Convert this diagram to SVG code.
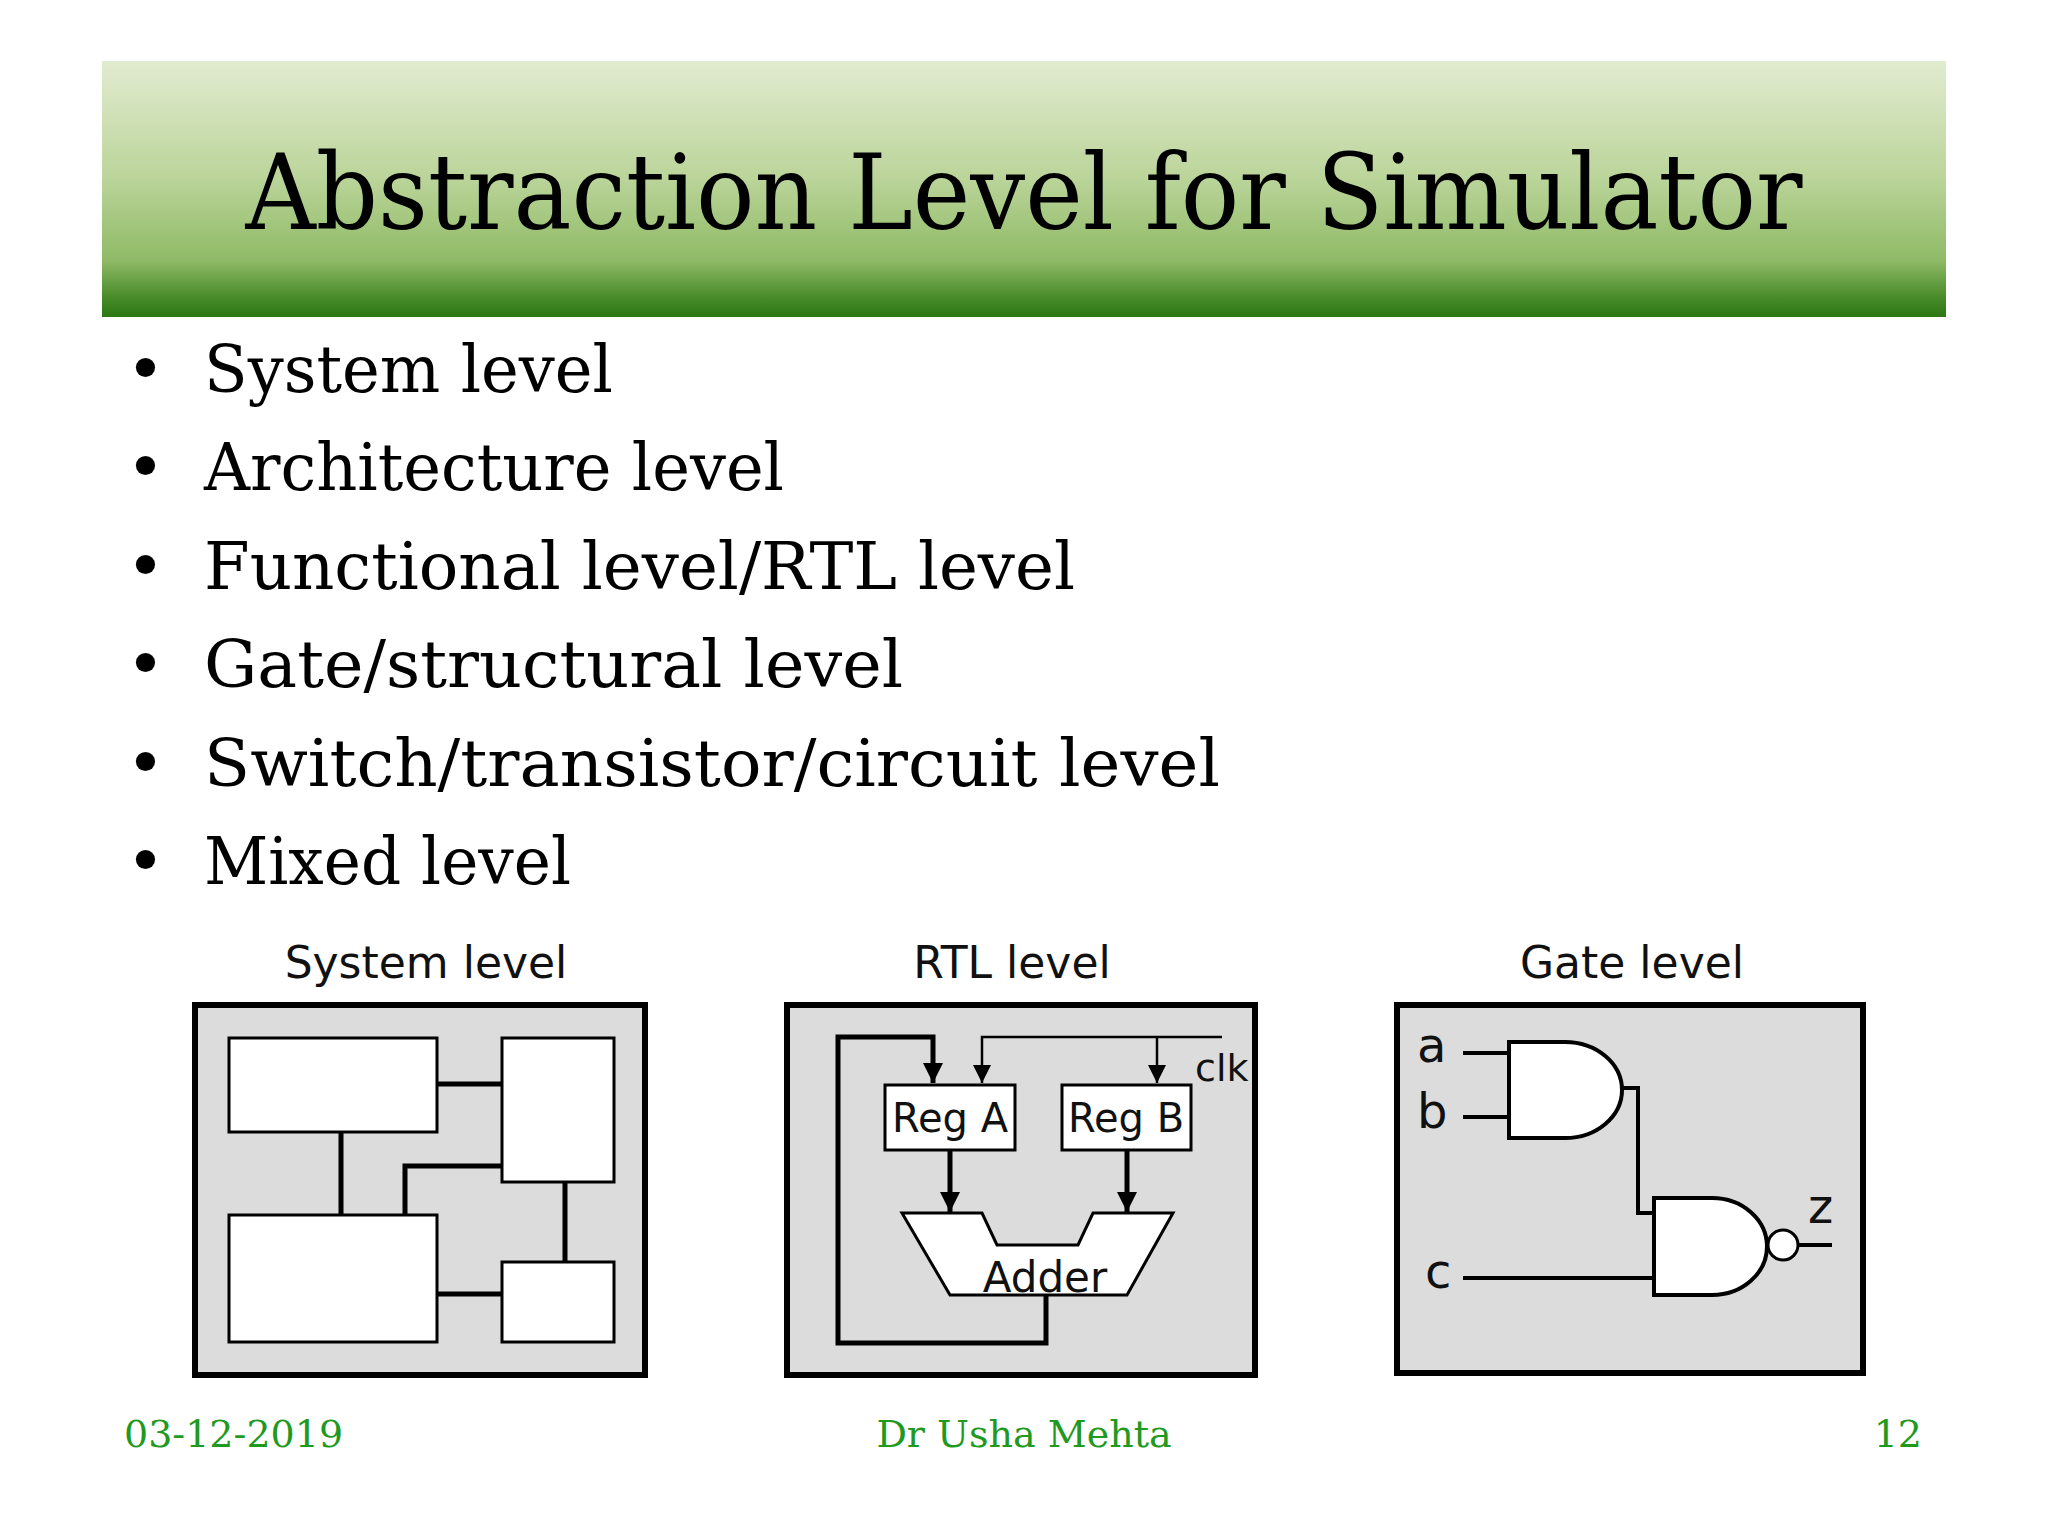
<svg xmlns="http://www.w3.org/2000/svg" width="2048" height="1536" viewBox="0 0 2048 1536">
<defs>
<linearGradient id="tg" x1="0" y1="0" x2="0" y2="1">
<stop offset="0" stop-color="#e1ebd0"/><stop offset="0.45" stop-color="#bcd59b"/><stop offset="0.78" stop-color="#8fba66"/><stop offset="0.92" stop-color="#4a8c2c"/><stop offset="1" stop-color="#2b7714"/>
</linearGradient>
<marker id="ah" viewBox="0 0 10 10" refX="10" refY="5" markerWidth="10" markerHeight="10" markerUnits="userSpaceOnUse" orient="auto"><path d="M0,0 L10,5 L0,10 Z" fill="#000"/></marker>
<marker id="ahb" viewBox="0 0 10 10" refX="10" refY="5" markerWidth="26" markerHeight="20" markerUnits="userSpaceOnUse" orient="auto"><path d="M0,0 L10,5 L0,10 Z" fill="#000"/></marker>
<marker id="ahs" viewBox="0 0 10 10" refX="10" refY="5" markerWidth="26" markerHeight="18" markerUnits="userSpaceOnUse" orient="auto"><path d="M0,0 L10,5 L0,10 Z" fill="#000"/></marker>
</defs>
<style>
.b{font-family:"DejaVu Serif","Liberation Serif",serif;font-size:66px;fill:#000}
.l{font-family:"DejaVu Sans","Liberation Sans",sans-serif;fill:#111}
.f{font-family:"DejaVu Serif","Liberation Serif",serif;font-size:38px;fill:#1f9a1f}
.frame{fill:#dcdcdc;stroke:#000;stroke-width:6}
.box{fill:#fff;stroke:#000;stroke-width:3}
.w{fill:none;stroke:#000;stroke-width:5}
.t{fill:none;stroke:#000;stroke-width:2.5}
</style>
<rect width="2048" height="1536" fill="#fff"/>
<rect x="102" y="61" width="1844" height="256" fill="url(#tg)"/>
<text x="1024" y="229" text-anchor="middle" font-family="DejaVu Serif, Liberation Serif, serif" font-size="104" textLength="1557" lengthAdjust="spacingAndGlyphs" fill="#000">Abstraction Level for Simulator</text>
<g class="b">
<text x="126" y="392">•</text><text x="204" y="392" textLength="409" lengthAdjust="spacingAndGlyphs">System level</text>
<text x="126" y="490">•</text><text x="204" y="490" textLength="580" lengthAdjust="spacingAndGlyphs">Architecture level</text>
<text x="126" y="589">•</text><text x="204" y="589" textLength="871" lengthAdjust="spacingAndGlyphs">Functional level/RTL level</text>
<text x="126" y="687">•</text><text x="204" y="687" textLength="699" lengthAdjust="spacingAndGlyphs">Gate/structural level</text>
<text x="126" y="786">•</text><text x="204" y="786" textLength="1016" lengthAdjust="spacingAndGlyphs">Switch/transistor/circuit level</text>
<text x="126" y="884">•</text><text x="204" y="884" textLength="367" lengthAdjust="spacingAndGlyphs">Mixed level</text>
</g>
<g id="system">
<text class="l" x="426" y="978" text-anchor="middle" font-size="44">System level</text>
<rect class="frame" x="195" y="1005" width="450" height="370"/>
<g class="w">
<path d="M437,1084 H502"/><path d="M341,1132 V1215"/><path d="M405,1215 V1166 H502"/><path d="M565,1182 V1262"/><path d="M437,1294 H502"/>
</g>
<rect class="box" x="229" y="1038" width="208" height="94"/>
<rect class="box" x="502" y="1038" width="112" height="144"/>
<rect class="box" x="229" y="1215" width="208" height="127"/>
<rect class="box" x="502" y="1262" width="112" height="80"/>
</g>
<g id="rtl">
<text class="l" x="1012" y="978" text-anchor="middle" font-size="44">RTL level</text>
<rect class="frame" x="787" y="1005" width="468" height="370"/>
<path class="w" d="M1046,1295 V1343 H838 V1037 H933 V1083" marker-end="url(#ahb)"/>
<path class="t" d="M1222,1037 H982 V1083" marker-end="url(#ahs)"/>
<path class="t" d="M1157,1037 V1083" marker-end="url(#ahs)"/>
<text class="l" x="1195" y="1081" font-size="38">clk</text>
<rect class="box" x="885" y="1085" width="130" height="65"/>
<rect class="box" x="1062" y="1085" width="129" height="65"/>
<text class="l" x="950" y="1132" text-anchor="middle" font-size="40">Reg A</text>
<text class="l" x="1126" y="1132" text-anchor="middle" font-size="40">Reg B</text>
<path class="w" d="M950,1150 V1212" marker-end="url(#ahb)"/>
<path class="w" d="M1127,1150 V1212" marker-end="url(#ahb)"/>
<polygon class="box" points="902,1213 982,1213 997,1245 1078,1245 1093,1213 1173,1213 1127,1295 950,1295"/>
<text class="l" x="1045" y="1292" text-anchor="middle" font-size="42">Adder</text>
</g>
<g id="gate">
<text class="l" x="1632" y="978" text-anchor="middle" font-size="44">Gate level</text>
<rect class="frame" x="1397" y="1005" width="466" height="368"/>
<g class="w" style="stroke-width:4">
<path d="M1463,1053 H1509"/><path d="M1463,1117 H1509"/><path d="M1622,1088 H1638 V1213 H1654"/><path d="M1463,1278 H1654"/><path d="M1798,1245 H1832"/>
</g>
<path class="box" style="stroke-width:4" d="M1509,1042 H1565 A57,48 0 0 1 1565,1138 H1509 Z"/>
<path class="box" style="stroke-width:4" d="M1654,1198 H1712 A55,48.5 0 0 1 1712,1295 H1654 Z"/>
<circle class="box" cx="1783" cy="1245" r="15"/>
<g class="l" font-size="48">
<text x="1417" y="1062">a</text><text x="1417" y="1128">b</text><text x="1425" y="1288">c</text><text x="1808" y="1223">z</text>
</g>
</g>
<text class="f" x="124" y="1447">03-12-2019</text>
<text class="f" x="1024" y="1447" text-anchor="middle">Dr Usha Mehta</text>
<text class="f" x="1922" y="1447" text-anchor="end">12</text>
</svg>
